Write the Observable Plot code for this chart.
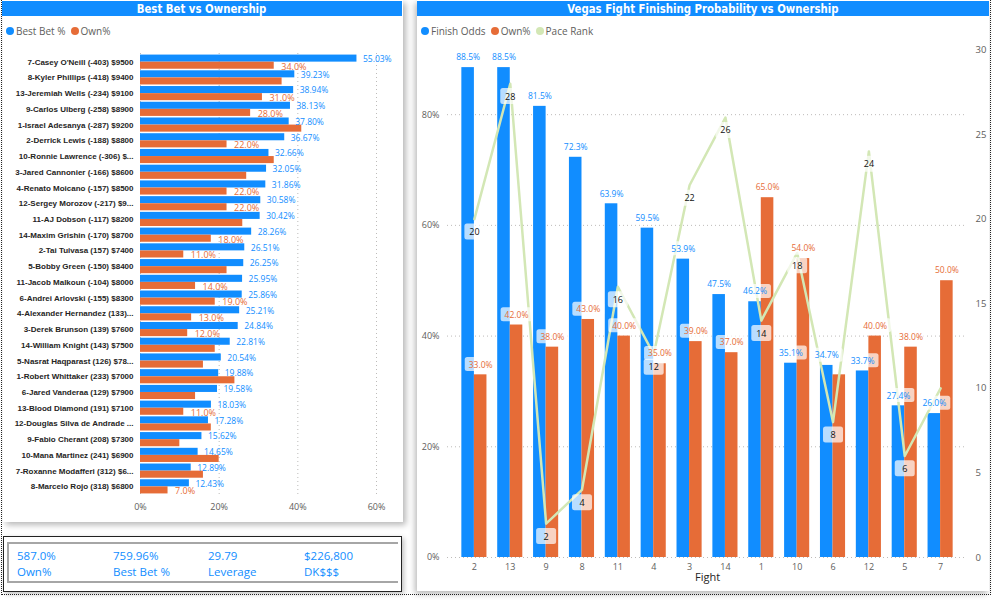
<!DOCTYPE html>
<html><head><meta charset="utf-8">
<script src="https://cdn.jsdelivr.net/npm/d3@7"></script>
<script src="https://cdn.jsdelivr.net/npm/@observablehq/plot@0.6"></script>
<style>
body{margin:0;background:#fff;width:1000px;height:600px;position:relative;overflow:hidden;font-family:"Open Sans","Noto Sans",sans-serif;}
.frame{position:absolute;left:1px;top:-1px;width:988px;height:595px;border-left:1px dotted #222;border-right:1px dotted #222;border-bottom:1px dotted #222;pointer-events:none;z-index:5}
.panel{position:absolute;background:#fff;}
#leftPanel{left:3px;top:0;width:400px;height:522px;box-shadow:3px 3px 6px rgba(0,0,0,0.28);}
#rightPanel{left:417px;top:0;width:572px;height:591px;box-shadow:-2px 3px 6px rgba(0,0,0,0.28);}
.titlebar{position:absolute;top:1px;height:15px;background:#118DFF;color:#fff;font-family:"DejaVu Sans Condensed","Liberation Sans",sans-serif;font-weight:bold;font-size:13px;line-height:15px;text-align:center;z-index:3}
.titlebar span{display:inline-block;transform:scaleX(0.87);transform-origin:center;white-space:nowrap}
.legend{position:absolute;top:25px;height:12px;font-size:10px;color:#605E5C;display:flex;align-items:center;z-index:3;white-space:nowrap}
.legend .item{display:flex;align-items:center;margin-right:5px}
.legend .dot{display:inline-block;width:8px;height:8px;border-radius:50%;margin-right:2px}
.chart{position:absolute;z-index:2}
#kpi{position:absolute;left:3px;top:536px;width:397px;height:54px;border:1px solid #222;background:#fff;box-shadow:2px 2px 5px rgba(0,0,0,0.25);z-index:3}
#kpiInner{position:absolute;left:3px;top:5px;width:389px;height:37px;border-top:2px solid #A6A6A6;border-bottom:2px solid #A6A6A6;border-left:2px solid #A6A6A6}
.kpiv,.kpil{position:absolute;color:#118DFF;font-size:11.5px;white-space:nowrap;line-height:14px}
</style>
</head><body>
<div class="frame"></div>
<div id="leftPanel" class="panel"></div>
<div id="rightPanel" class="panel"></div>
<div class="titlebar" style="left:2px;width:400px"><span>Best Bet vs Ownership</span></div>
<div class="titlebar" style="left:417px;width:572px"><span>Vegas Fight Finishing Probability vs Ownership</span></div>
<div id="legendL" class="legend" style="left:6px"></div>
<div id="legendR" class="legend" style="left:421px"></div>
<div id="kpi"><div id="kpiInner"></div></div>
<script>
// ---------- Left chart data ----------
const players = ["7-Casey O'Neill (-403) $9500","8-Kyler Phillips (-418) $9400","13-Jeremiah Wells (-234) $9100","9-Carlos Ulberg (-258) $8900","1-Israel Adesanya (-287) $9200","2-Derrick Lewis (-188) $8800","10-Ronnie Lawrence (-306) $...","3-Jared Cannonier (-166) $8600","4-Renato Moicano (-157) $8500","12-Sergey Morozov (-217) $9...","11-AJ Dobson (-117) $8200","14-Maxim Grishin (-170) $8700","2-Tai Tuivasa (157) $7400","5-Bobby Green (-150) $8400","11-Jacob Malkoun (-104) $8000","6-Andrei Arlovski (-155) $8300","4-Alexander Hernandez (133)...","3-Derek Brunson (139) $7600","14-William Knight (143) $7500","5-Nasrat Haqparast (126) $78...","1-Robert Whittaker (233) $7000","6-Jared Vanderaa (129) $7900","13-Blood Diamond (191) $7100","12-Douglas Silva de Andrade ...","9-Fabio Cherant (208) $7300","10-Mana Martinez (241) $6900","7-Roxanne Modafferi (312) $6...","8-Marcelo Rojo (318) $6800"];
const bestBet = [55.03,39.23,38.94,38.13,37.80,36.67,32.66,32.05,31.86,30.58,30.42,28.26,26.51,26.25,25.95,25.86,25.21,24.84,22.81,20.54,19.88,19.58,18.03,17.28,15.62,14.65,12.89,12.43];
const ownPct = [34,36,31,28,41,22,34,27,22,22,26,18,11,22,14,19,13,12,19,16,24,14,11,18,10,20,16,7];
const ownLabelShown = [1,0,1,1,0,1,0,0,1,1,0,1,1,0,1,1,1,1,0,0,0,0,1,0,0,0,0,1];
const leftXTicks = [0,20,40,60];
const leftSeries = ["Best Bet %","Own%"];

// ---------- Right chart data ----------
const fights = ["2","13","9","8","11","4","3","14","1","10","6","12","5","7"];
const finishOdds = [88.5,88.5,81.5,72.3,63.9,59.5,53.9,47.5,46.2,35.1,34.7,33.7,27.4,26.0];
const fightOwn = [33,42,38,43,40,35,39,37,65,54,33,40,38,50];
const paceRank = [20,28,2,4,16,12,22,26,14,18,8,24,6,10];
const fightOwnLabelShown = [1,1,1,1,1,1,1,1,1,1,0,1,1,1];
const paceLabelShown = [1,1,1,1,1,1,1,1,1,1,1,1,1,0];
const rightLeftTicks = [0,20,40,60,80];
const rightRightTicks = [0,5,10,15,20,25,30];
const rightSeries = ["Finish Odds","Own%","Pace Rank"];

// ---------- KPI ----------
const kpiValues = ["587.0%","759.96%","29.79","$226,800"];
const kpiLabels = ["Own%","Best Bet %","Leverage","DK$$$"];

const BLUE = "#118DFF", ORANGE = "#E66C37", GREEN = "#D3E7B5";

function legend(el, names, colors){
  names.forEach((n,i)=>{
    const it=document.createElement("span");it.className="item";
    const d=document.createElement("span");d.className="dot";d.style.background=colors[i];
    it.appendChild(d);it.appendChild(document.createTextNode(n));el.appendChild(it);
  });
}
legend(document.getElementById("legendL"), leftSeries, [BLUE, ORANGE]);
legend(document.getElementById("legendR"), rightSeries, [BLUE, ORANGE, GREEN]);

const kpiInner=document.getElementById("kpiInner");
const kpiX=[8,104,199,295];
kpiValues.forEach((v,i)=>{
  const a=document.createElement("div");a.className="kpiv";a.style.left=kpiX[i]+"px";a.style.top="5px";a.textContent=v;kpiInner.appendChild(a);
  const b=document.createElement("div");b.className="kpil";b.style.left=kpiX[i]+"px";b.style.top="21px";b.textContent=kpiLabels[i];kpiInner.appendChild(b);
});

// ---------- Left chart ----------
const leftRows = players.map((p,i)=>({player:p,best:bestBet[i],own:ownPct[i],show:ownLabelShown[i]===1}));
const leftPlot = Plot.plot({
  width:400,height:480,marginLeft:140,marginRight:24,marginTop:13,marginBottom:25,
  style:{fontFamily:"'Open Sans',sans-serif",fontSize:"9px",background:"transparent",overflow:"visible"},
  x:{domain:[0,60]},
  y:{domain:players,padding:0.1,round:false},
  marks:[
    Plot.gridX(leftXTicks,{stroke:"#BDBBB9",strokeOpacity:1,strokeDasharray:"1,3"}),
    Plot.barX(leftRows,{y:"player",x:"best",fill:BLUE,insetBottom:7.1}),
    Plot.barX(leftRows,{y:"player",x:"own",fill:ORANGE,insetTop:7.1}),
    Plot.text(leftRows,{y:"player",x:"best",text:d=>d.best.toFixed(2)+"%",textAnchor:"start",dx:6,dy:-3,fill:BLUE,fontSize:8.5}),
    Plot.text(leftRows.filter(d=>d.show),{y:"player",x:"own",text:d=>d.own.toFixed(1)+"%",textAnchor:"start",dx:7,dy:4.5,fill:ORANGE,fontSize:9}),
    Plot.axisX(leftXTicks,{tickSize:0,tickPadding:8,tickFormat:d=>d+"%",fill:"#605E5C",fontSize:9,label:null}),
    Plot.axisY({tickSize:0,tickPadding:7,fill:"#252423",fontWeight:"bold",fontFamily:"'Liberation Sans',Arial,sans-serif",fontSize:8,label:null})
  ]
});
leftPlot.classList.add("chart");
leftPlot.style.left="0px";leftPlot.style.top="40px";
document.body.appendChild(leftPlot);

// ---------- Right chart ----------
const yTop = 91.7;            // left axis maximum (%)
const k = yTop / rightRightTicks[rightRightTicks.length-1]; // pace rank -> % axis
const rightRows = fights.map((f,i)=>({fight:f,finish:finishOdds[i],own:fightOwn[i],pace:paceRank[i],ownShow:fightOwnLabelShown[i]===1,paceShow:paceLabelShown[i]===1}));
const half = 12.55;
const rightPlot = Plot.plot({
  width:572,height:552,marginLeft:29,marginRight:23,marginTop:9.4,marginBottom:35,
  style:{fontFamily:"'Open Sans',sans-serif",fontSize:"9px",background:"transparent",overflow:"visible"},
  x:{domain:fights,paddingInner:0.3,paddingOuter:0.4,round:false},
  y:{domain:[0,yTop]},
  marks:[
    Plot.gridY(rightLeftTicks,{stroke:"#BDBBB9",strokeOpacity:1,strokeDasharray:"1,3"}),
    Plot.barY(rightRows,{x:"fight",y:"finish",fill:BLUE,insetRight:half}),
    Plot.barY(rightRows,{x:"fight",y:"own",fill:ORANGE,insetLeft:half}),
    Plot.line(rightRows,{x:"fight",y:d=>d.pace*k,stroke:GREEN,strokeWidth:2.5}),
    Plot.text(rightRows,{x:"fight",y:"finish",text:d=>d.finish.toFixed(1)+"%",dx:-half/2,dy:-10,fill:BLUE,fontSize:8.5}),
    Plot.text(rightRows.filter(d=>d.ownShow),{x:"fight",y:"own",text:d=>d.own.toFixed(1)+"%",dx:half/2,dy:-10,fill:ORANGE,fontSize:8.5}),
    Plot.text(rightRows.filter(d=>d.paceShow),{x:"fight",y:d=>d.pace*k,text:d=>String(d.pace),dy:13,fill:"#111",fontSize:9}),
    Plot.axisY(rightLeftTicks,{tickSize:0,tickPadding:8,tickFormat:d=>d+"%",fill:"#605E5C",fontSize:9,label:null}),
    Plot.axisY(rightRightTicks.map(v=>v*k),{anchor:"right",tickSize:0,tickPadding:8,tickFormat:d=>String(Math.round(d/k)),fill:"#605E5C",fontSize:9.5,label:null}),
    Plot.axisX({tickSize:0,tickPadding:6,fill:"#605E5C",fontSize:9,label:null}),
    Plot.text(["Fight"],{frameAnchor:"bottom",dy:23,fill:"#252423",fontSize:11})
  ]
});
rightPlot.classList.add("chart");
rightPlot.style.left="418px";rightPlot.style.top="40px";
document.body.appendChild(rightPlot);

// label backgrounds (semi-transparent white boxes, as in the reference)
const NS="http://www.w3.org/2000/svg";
rightPlot.querySelectorAll('g[aria-label="text"] text').forEach(t=>{
  if(t.textContent==="Fight") return;
  const b=t.getBBox();
  const padX=4,padY=1.5,minW=20;
  let w=b.width+2*padX, x=b.x-padX;
  if(w<minW){x-=(minW-w)/2;w=minW;}
  const r=document.createElementNS(NS,"rect");
  r.setAttribute("x",x);r.setAttribute("y",b.y-padY);
  r.setAttribute("width",w);r.setAttribute("height",b.height+2*padY);
  r.setAttribute("rx",2.5);r.setAttribute("fill","#fff");r.setAttribute("fill-opacity",0.7);r.setAttribute("stroke","none");
  if(t.getAttribute("transform")) r.setAttribute("transform",t.getAttribute("transform"));
  t.parentNode.insertBefore(r,t);
});
</script>
</body></html>
